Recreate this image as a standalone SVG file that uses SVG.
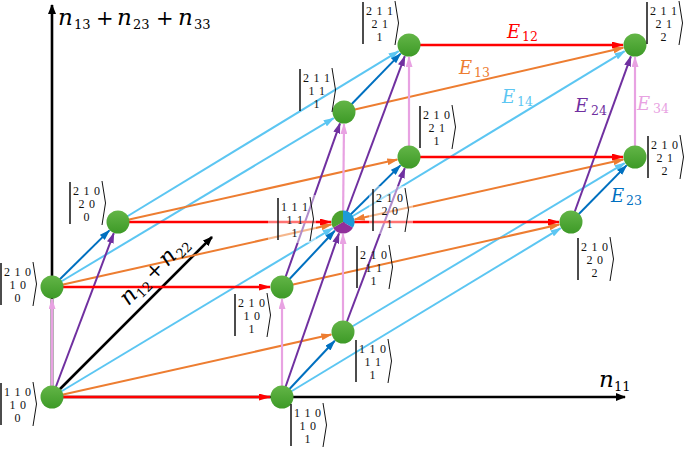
<svg xmlns="http://www.w3.org/2000/svg" width="685" height="450" viewBox="0 0 685 450">
<style>
.ax{stroke:#000;stroke-width:2.6;fill:none}
.r{stroke:#FF0000;stroke-width:2.6;fill:none}
.o{stroke:#ED7D31;stroke-width:2;fill:none}
.lb{stroke:#5CC6F2;stroke-width:2;fill:none}
.b{stroke:#0070C0;stroke-width:2;fill:none}
.p{stroke:#7030A0;stroke-width:2;fill:none}
.k{stroke:#E8A2E2;stroke-width:2.2;fill:none}
.nd{fill:url(#gg)}
.ket path{stroke:#111;fill:none}
.ket text{font-family:"Liberation Serif","Times New Roman",serif;font-size:12px;fill:#111;text-anchor:middle}
.m{font-family:"DejaVu Serif",serif}
.mi{font-style:italic}
</style>
<defs>
<linearGradient id="gg" x1="0" y1="0" x2="0" y2="1">
<stop offset="0" stop-color="#63B547"/>
<stop offset="1" stop-color="#3D9A27"/>
</linearGradient>
<marker id="aK" markerUnits="userSpaceOnUse" markerWidth="10" markerHeight="8" viewBox="0 0 10 8" refX="9" refY="4" orient="auto"><path d="M0,0 L10,4 L0,8 z" fill="#000"/></marker>
<marker id="aR" markerUnits="userSpaceOnUse" markerWidth="12" markerHeight="7" viewBox="0 0 12 7" refX="11" refY="3.5" orient="auto"><path d="M0,0 L12,3.5 L0,7 z" fill="#FF0000"/></marker>
<marker id="aO" markerUnits="userSpaceOnUse" markerWidth="11" markerHeight="7" viewBox="0 0 11 7" refX="10" refY="3.5" orient="auto-start-reverse"><path d="M0,0 L11,3.5 L0,7 z" fill="#ED7D31"/></marker>
<marker id="aL" markerUnits="userSpaceOnUse" markerWidth="11" markerHeight="7" viewBox="0 0 11 7" refX="10" refY="3.5" orient="auto"><path d="M0,0 L11,3.5 L0,7 z" fill="#5CC6F2"/></marker>
<marker id="aB" markerUnits="userSpaceOnUse" markerWidth="11" markerHeight="7" viewBox="0 0 11 7" refX="10" refY="3.5" orient="auto"><path d="M0,0 L11,3.5 L0,7 z" fill="#0070C0"/></marker>
<marker id="aP" markerUnits="userSpaceOnUse" markerWidth="11" markerHeight="7" viewBox="0 0 11 7" refX="10" refY="3.5" orient="auto"><path d="M0,0 L11,3.5 L0,7 z" fill="#7030A0"/></marker>
<marker id="aI" markerUnits="userSpaceOnUse" markerWidth="11" markerHeight="7" viewBox="0 0 11 7" refX="10" refY="3.5" orient="auto"><path d="M0,0 L11,3.5 L0,7 z" fill="#E8A2E2"/></marker>
</defs>
<rect width="685" height="450" fill="#fff"/>

<g id="axes">
<line class="ax" x1="52" y1="397" x2="52" y2="5" marker-end="url(#aK)"/>
<line class="ax" x1="52" y1="397" x2="625" y2="397" marker-end="url(#aK)"/>
<line class="ax" x1="52" y1="397" x2="212" y2="237" marker-end="url(#aK)"/>
</g>

<g id="connectors">
<line class="lb" x1="52" y1="397" x2="332.7" y2="228.2" marker-end="url(#aL)"/>
<line class="lb" x1="52" y1="287" x2="333.7" y2="118.2" marker-end="url(#aL)"/>
<line class="lb" x1="118" y1="222" x2="398.7" y2="51.2" marker-end="url(#aL)"/>
<line class="lb" x1="282" y1="397" x2="560.7" y2="228.2" marker-end="url(#aL)"/>
<line class="lb" x1="343" y1="332" x2="624.7" y2="163.2" marker-end="url(#aL)"/>
<line class="lb" x1="343" y1="222" x2="624.7" y2="51.2" marker-end="url(#aL)"/>

<line class="o" x1="52" y1="397" x2="331.3" y2="334.6" marker-end="url(#aO)"/>
<line class="o" x1="52" y1="287" x2="331.3" y2="224.6" marker-end="url(#aO)"/>
<line class="o" x1="118" y1="222" x2="397.3" y2="159.6" marker-end="url(#aO)"/>
<line class="o" x1="282" y1="287" x2="559.3" y2="224.6" marker-end="url(#aO)"/>
<line class="o" x1="354.7" y1="219.4" x2="623.3" y2="159.6" marker-start="url(#aO)" marker-end="url(#aO)"/>
<line class="o" x1="344" y1="112" x2="623.3" y2="47.7" marker-end="url(#aO)"/>

<line class="k" x1="52" y1="397" x2="52" y2="299" marker-end="url(#aI)"/>
<line class="k" x1="282" y1="397" x2="282" y2="299" marker-end="url(#aI)"/>
<line class="k" x1="343" y1="332" x2="343" y2="234" marker-end="url(#aI)"/>
<line class="k" x1="343" y1="222" x2="344" y2="124" marker-end="url(#aI)"/>
<line class="k" x1="409" y1="157" x2="409" y2="57" marker-end="url(#aI)"/>
<line class="k" x1="635" y1="157" x2="635" y2="57" marker-end="url(#aI)"/>

<line class="p" x1="52" y1="397" x2="113.8" y2="233.2" marker-end="url(#aP)"/>
<line class="p" x1="282" y1="397" x2="339" y2="233.3" marker-end="url(#aP)"/>
<line class="p" x1="282" y1="287" x2="340" y2="123.3" marker-end="url(#aP)"/>
<line class="p" x1="343" y1="332" x2="404.8" y2="168.2" marker-end="url(#aP)"/>
<line class="p" x1="343" y1="222" x2="404.8" y2="56.2" marker-end="url(#aP)"/>
<line class="p" x1="571" y1="222" x2="630.9" y2="56.3" marker-end="url(#aP)"/>

<line class="b" x1="52" y1="287" x2="109.4" y2="230.4" marker-end="url(#aB)"/>
<line class="b" x1="282" y1="397" x2="334.8" y2="340.8" marker-end="url(#aB)"/>
<line class="b" x1="282" y1="287" x2="334.8" y2="230.8" marker-end="url(#aB)"/>
<line class="b" x1="343" y1="222" x2="400.4" y2="165.4" marker-end="url(#aB)"/>
<line class="b" x1="344" y1="112" x2="400.6" y2="53.6" marker-end="url(#aB)"/>
<line class="b" x1="571" y1="222" x2="626.6" y2="165.4" marker-end="url(#aB)"/>

<line class="r" x1="52" y1="397" x2="270" y2="397" marker-end="url(#aR)"/>
<line class="r" x1="52" y1="287" x2="270" y2="287" marker-end="url(#aR)"/>
<line class="r" x1="118" y1="222" x2="331" y2="222" marker-end="url(#aR)"/>
<line class="r" x1="343" y1="222" x2="559" y2="222" marker-end="url(#aR)"/>
<line class="r" x1="409" y1="157" x2="623" y2="157" marker-end="url(#aR)"/>
<line class="r" x1="409" y1="45" x2="623" y2="45" marker-end="url(#aR)"/>
</g>

<g id="nA"><circle class="nd" cx="52" cy="397" r="11.5"/>
<g class="ket" transform="translate(1,383)"><path d="M0,0V42" stroke-width="1.5"/><path d="M32,-1L35.5,21L32,43" stroke-width="1"/><text x="6 16.5 27" y="13">110</text><text x="11.5 22" y="26">10</text><text x="16.5" y="39">0</text></g></g>
<g id="nB"><circle class="nd" cx="52" cy="287" r="11.5"/>
<g class="ket" transform="translate(1,263)"><path d="M0,0V42" stroke-width="1.5"/><path d="M32,-1L35.5,21L32,43" stroke-width="1"/><text x="6 16.5 27" y="13">210</text><text x="11.5 22" y="26">10</text><text x="16.5" y="39">0</text></g></g>
<g id="nC"><circle class="nd" cx="118" cy="222" r="11.5"/>
<g class="ket" transform="translate(70,182)"><path d="M0,0V42" stroke-width="1.5"/><path d="M32,-1L35.5,21L32,43" stroke-width="1"/><text x="6 16.5 27" y="13">210</text><text x="11.5 22" y="26">20</text><text x="16.5" y="39">0</text></g></g>
<g id="nD"><circle class="nd" cx="282" cy="397" r="11.5"/>
<g class="ket" transform="translate(291,404)"><path d="M0,0V42" stroke-width="1.5"/><path d="M32,-1L35.5,21L32,43" stroke-width="1"/><text x="6 16.5 27" y="13">110</text><text x="11.5 22" y="26">10</text><text x="16.5" y="39">1</text></g></g>
<g id="nE"><circle class="nd" cx="282" cy="287" r="11.5"/>
<g class="ket" transform="translate(235,294)"><path d="M0,0V42" stroke-width="1.5"/><path d="M32,-1L35.5,21L32,43" stroke-width="1"/><text x="6 16.5 27" y="13">210</text><text x="11.5 22" y="26">10</text><text x="16.5" y="39">1</text></g></g>
<g id="nF"><circle class="nd" cx="343" cy="332" r="11.5"/>
<g class="ket" transform="translate(356,340)"><path d="M0,0V42" stroke-width="1.5"/><path d="M32,-1L35.5,21L32,43" stroke-width="1"/><text x="6 16.5 27" y="13">110</text><text x="11.5 22" y="26">11</text><text x="16.5" y="39">1</text></g></g>
<g id="nG">
<rect x="268" y="195" width="48" height="48" fill="#fff" fill-opacity="0.45"/>
<rect x="369" y="186" width="44" height="48" fill="#fff" fill-opacity="0.45"/>
<path d="M343,222 L343,210.5 A11.5,11.5 0 0,1 352.96,227.75 Z" fill="#1E9BD7"/>
<path d="M343,222 L352.96,227.75 A11.5,11.5 0 0,1 333.04,227.75 Z" fill="#912F9B"/>
<path d="M343,222 L333.04,227.75 A11.5,11.5 0 0,1 343,210.5 Z" fill="#4CA22F"/>
<g class="ket" transform="translate(278,198)"><path d="M0,0V42" stroke-width="1.5"/><path d="M32,-1L35.5,21L32,43" stroke-width="1"/><text x="6 16.5 27" y="13">111</text><text x="11.5 22" y="26">11</text><text x="16.5" y="39">1</text></g>
<g class="ket" transform="translate(373,189)"><path d="M0,0V42" stroke-width="1.5"/><path d="M32,-1L35.5,21L32,43" stroke-width="1"/><text x="6 16.5 27" y="13">210</text><text x="11.5 22" y="26">20</text><text x="16.5" y="39">1</text></g>
<g class="ket" transform="translate(357,246)"><path d="M0,0V42" stroke-width="1.5"/><path d="M32,-1L35.5,21L32,43" stroke-width="1"/><text x="6 16.5 27" y="13">210</text><text x="11.5 22" y="26">11</text><text x="16.5" y="39">1</text></g>
</g>
<g id="nH"><circle class="nd" cx="344" cy="112" r="11.5"/>
<g class="ket" transform="translate(300,69)"><path d="M0,0V42" stroke-width="1.5"/><path d="M32,-1L35.5,21L32,43" stroke-width="1"/><text x="6 16.5 27" y="13">211</text><text x="11.5 22" y="26">11</text><text x="16.5" y="39">1</text></g></g>
<g id="nI"><circle class="nd" cx="409" cy="45" r="11.5"/>
<g class="ket" transform="translate(363,2)"><path d="M0,0V42" stroke-width="1.5"/><path d="M32,-1L35.5,21L32,43" stroke-width="1"/><text x="6 16.5 27" y="13">211</text><text x="11.5 22" y="26">21</text><text x="16.5" y="39">1</text></g></g>
<g id="nJ"><circle class="nd" cx="409" cy="157" r="11.5"/>
<g class="ket" transform="translate(420,106)"><path d="M0,0V42" stroke-width="1.5"/><path d="M32,-1L35.5,21L32,43" stroke-width="1"/><text x="6 16.5 27" y="13">210</text><text x="11.5 22" y="26">21</text><text x="16.5" y="39">1</text></g></g>
<g id="nK"><circle class="nd" cx="571" cy="222" r="11.5"/>
<g class="ket" transform="translate(578,238)"><path d="M0,0V42" stroke-width="1.5"/><path d="M32,-1L35.5,21L32,43" stroke-width="1"/><text x="6 16.5 27" y="13">210</text><text x="11.5 22" y="26">20</text><text x="16.5" y="39">2</text></g></g>
<g id="nL"><circle class="nd" cx="635" cy="157" r="11.5"/>
<g class="ket" transform="translate(648,136)"><path d="M0,0V42" stroke-width="1.5"/><path d="M32,-1L35.5,21L32,43" stroke-width="1"/><text x="6 16.5 27" y="13">210</text><text x="11.5 22" y="26">21</text><text x="16.5" y="39">2</text></g></g>
<g id="nM"><circle class="nd" cx="635" cy="45" r="11.5"/>
<g class="ket" transform="translate(647,2)"><path d="M0,0V42" stroke-width="1.5"/><path d="M32,-1L35.5,21L32,43" stroke-width="1"/><text x="6 16.5 27" y="13">211</text><text x="11.5 22" y="26">21</text><text x="16.5" y="39">2</text></g></g>

<g id="labels" class="m">
<text y="25" font-size="23"><tspan x="58" class="mi">n</tspan><tspan x="74" y="29" font-size="13">13</tspan><tspan x="96" y="25" font-size="21">+</tspan><tspan x="117" class="mi">n</tspan><tspan x="133" y="29" font-size="13">23</tspan><tspan x="156" y="25" font-size="21">+</tspan><tspan x="178" class="mi">n</tspan><tspan x="194" y="29" font-size="13">33</tspan></text>
<g transform="translate(161.6,273.2) rotate(-45)">
<text y="0" font-size="23"><tspan x="-47" class="mi">n</tspan><tspan x="-32" y="4" font-size="13">12</tspan><tspan x="-12" y="0" font-size="21">+</tspan><tspan x="8" class="mi">n</tspan><tspan x="24" y="4" font-size="13">22</tspan></text>
</g>
<text y="387" font-size="23"><tspan x="599" class="mi">n</tspan><tspan x="614" y="391" font-size="13">11</tspan></text>
<text y="38" font-size="18" fill="#FF0000"><tspan x="507" class="mi">E</tspan><tspan x="522" y="41" font-size="12.5">12</tspan></text>
<text y="74" font-size="18" fill="#ED7D31"><tspan x="459" class="mi">E</tspan><tspan x="474" y="77" font-size="12.5">13</tspan></text>
<text y="103" font-size="18" fill="#5CC6F2"><tspan x="502" class="mi">E</tspan><tspan x="517" y="106" font-size="12.5">14</tspan></text>
<text y="112" font-size="18" fill="#7030A0"><tspan x="575" class="mi">E</tspan><tspan x="591" y="115" font-size="12.5">24</tspan></text>
<text y="110" font-size="18" fill="#E8A2E2"><tspan x="637" class="mi">E</tspan><tspan x="653" y="113" font-size="12.5">34</tspan></text>
<text y="202" font-size="18" fill="#0070C0"><tspan x="611" class="mi">E</tspan><tspan x="626" y="205" font-size="12.5">23</tspan></text>
</g>
</svg>
